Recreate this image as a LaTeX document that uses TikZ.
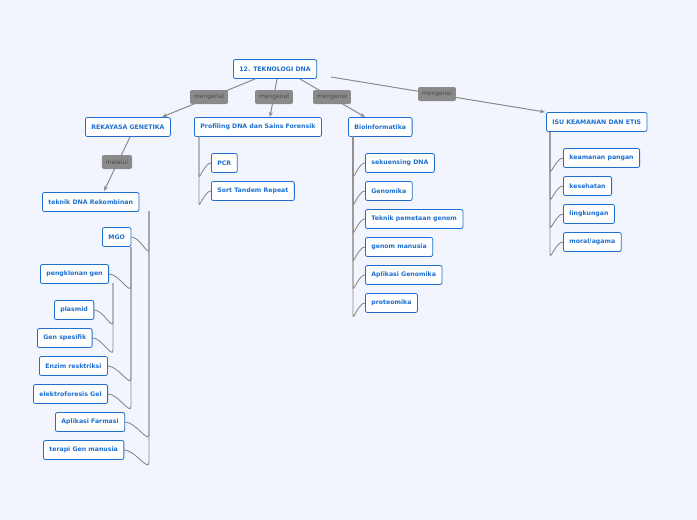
\documentclass[tikz,border=0pt]{standalone}
\usepackage{fontspec}
\setmainfont{DejaVu Sans}
\usetikzlibrary{arrows.meta}
\definecolor{bg}{HTML}{F2F5FE}
\definecolor{tb}{HTML}{1E6FD0}
\definecolor{lg}{HTML}{8A8A8A}
\tikzset{
 box/.style={draw=tb,fill=white,rounded corners=2pt,line width=0.8pt,text=tb,font=\bfseries\fontsize{6.2}{7}\selectfont,minimum height=19pt,inner xsep=6pt,inner ysep=0pt,anchor=west},
 lab/.style={fill=lg,rounded corners=2pt,text=black!70,font=\fontsize{6}{7}\selectfont,minimum height=14pt,inner xsep=4pt,inner ysep=0pt},
 ar/.style={draw=lg,line width=1pt,-{Stealth[length=5pt,width=4pt]}},
 br/.style={draw=lg,line width=0.9pt},
}
\begin{document}
\begin{tikzpicture}[x=1pt,y=-1pt]
\fill[bg] (0,0) rectangle (697,520);
\useasboundingbox (0,0) rectangle (697,520);
\node[box] (root) at (233,69) {12. TEKNOLOGI DNA};
\node[box] (rg) at (85,127) {REKAYASA GENETIKA};
\node[box] (pf) at (194,127) {Profiling DNA dan Sains Forensik};
\node[box] (bi) at (348,127) {Bioinformatika};
\node[box] (isu) at (546,122) {ISU KEAMANAN DAN ETIS};
\node[box] (tk) at (42,202) {teknik DNA Rekombinan};
\node[box] (mgo) at (102,237) {MGO};
\node[box] (pk) at (40,274) {pengklonan gen};
\node[box] (pl) at (54,310) {plasmid};
\node[box] (gs) at (37,338) {Gen spesifik};
\node[box] (en) at (39,366) {Enzim resktriksi};
\node[box] (el) at (33,394) {elektroforesis Gel};
\node[box] (af) at (55,422) {Aplikasi Farmasi};
\node[box] (tg) at (43,450) {terapi Gen manusia};
\node[box] (pcr) at (211,163) {PCR};
\node[box] (st) at (211,191) {Sort Tandem Repeat};
\node[box] (b1) at (365,163) {sekuensing DNA};
\node[box] (b2) at (365,191) {Genomika};
\node[box] (b3) at (365,219) {Teknik pemetaan genom};
\node[box] (b4) at (365,247) {genom manusia};
\node[box] (b5) at (365,275) {Aplikasi Genomika};
\node[box] (b6) at (365,303) {proteomika};
\node[box] (i1) at (563,158) {keamanan pangan};
\node[box] (i2) at (563,186) {kesehatan};
\node[box] (i3) at (563,214) {lingkungan};
\node[box] (i4) at (563,242) {moral/agama};
% main arrows
\coordinate (r1) at (255,79); \coordinate (t1) at (162,117);
\coordinate (r2) at (277,79); \coordinate (t2) at (270,117);
\coordinate (r3) at (300,79); \coordinate (t3) at (365,117);
\coordinate (r4) at (331,77); \coordinate (t4) at (545,112);
\coordinate (r5) at (130,137); \coordinate (t5) at (104,191);
\draw[ar] (r1) -- (t1); \draw[ar] (r2) -- (t2); \draw[ar] (r3) -- (t3); \draw[ar] (r4) -- (t4); \draw[ar] (r5) -- (t5);
\node[lab] (l1) at (209,97) {mengenal};
\node[lab] (l2) at (274,97) {mengenal};
\node[lab] (l3) at (332,97) {mengenal};
\node[lab] (l4) at (437,94) {mengenai};
\node[lab] (l5) at (117,162) {melalui};
% left-side trees
\coordinate (pp) at (199,136);
\foreach \c in {pcr,st} \draw[br] (pp) -- ([yshift=-12]pp|-\c.west) to[out=-90,in=180] (\c.west);
\coordinate (bp) at (353,136);
\foreach \c in {b1,b2,b3,b4,b5,b6} \draw[br] (bp) -- ([yshift=-12]bp|-\c.west) to[out=-90,in=180] (\c.west);
\coordinate (ip) at (550,132);
\foreach \c in {i1,i2,i3,i4} \draw[br] (ip) -- ([yshift=-12]ip|-\c.west) to[out=-90,in=180] (\c.west);
% right-side trees
\coordinate (tp) at (149,211);
\foreach \c in {mgo,af,tg} \draw[br] (tp) -- ([yshift=-12]tp|-\c.east) to[out=-90,in=0] (\c.east);
\coordinate (mp) at (131,247);
\foreach \c in {pk,en,el} \draw[br] (mp) -- ([yshift=-12]mp|-\c.east) to[out=-90,in=0] (\c.east);
\coordinate (kp) at (113,283);
\foreach \c in {pl,gs} \draw[br] (kp) -- ([yshift=-12]kp|-\c.east) to[out=-90,in=0] (\c.east);
\end{tikzpicture}
\end{document}
